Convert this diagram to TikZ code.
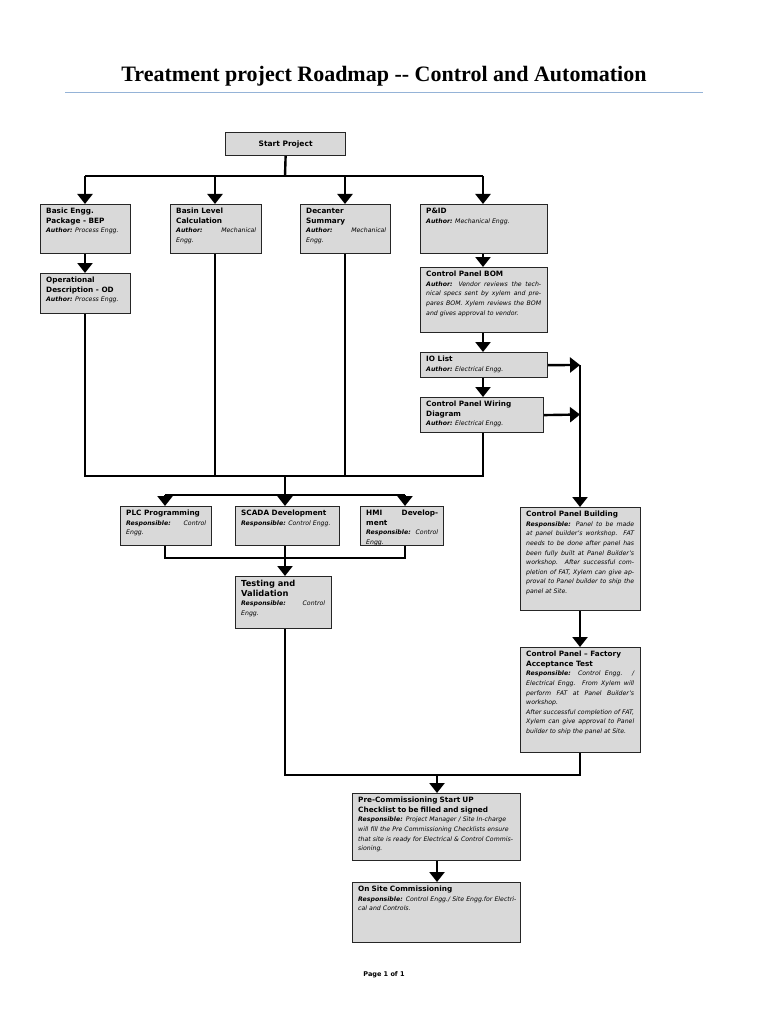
\documentclass[tikz,border=0pt]{standalone}
\usepackage{fontspec}
\setmainfont{DejaVu Sans}
\newfontfamily\titlefont{Liberation Serif}
\usetikzlibrary{arrows.meta}
\definecolor{boxgray}{HTML}{D9D9D9}
\definecolor{rulecol}{HTML}{95B3D7}
\begin{document}
\begin{tikzpicture}[x=1pt,y=-1pt,
  box/.style={draw=black!85,line width=1.2pt,fill=boxgray,anchor=north west,inner sep=0pt,
    drop shadow/.style={}},
  txt/.style={anchor=north west,inner sep=0pt,align=justify,font=\fontsize{6.2}{9.6}\selectfont},
  arr/.style={line width=2.4pt,-{Triangle[width=15pt,length=10pt]}},
  ln/.style={line width=2.4pt},
  thin/.style={line width=1.4pt}]
\useasboundingbox (0,0) rectangle (768,1024);
\node[font=\titlefont\bfseries\fontsize{22}{26}\selectfont] (title) at (384,76) {Treatment project Roadmap -- Control and Automation};
\draw[rulecol,line width=0.8pt] (65,92) coordinate (r1) -- (703,92) coordinate (r2);
% boxes
\newcommand\bx[5]{\node[box,minimum width=#4-#2,minimum height=#5-#3] (#1) at (#2,#3) {};}
\bx{start}{225}{132}{345}{155}
\bx{bep}{40}{204}{130}{253}
\bx{basin}{170}{204}{261}{253}
\bx{dec}{300}{204}{390}{253}
\bx{pid}{420}{204}{547}{253}
\bx{od}{40}{273}{130}{313}
\bx{bom}{420}{267}{547}{332}
\bx{io}{420}{352}{547}{377}
\bx{wir}{420}{397}{543}{432}
\bx{plc}{120}{506}{211}{545}
\bx{scada}{235}{506}{339}{545}
\bx{hmi}{360}{506}{443}{545}
\bx{test}{235}{576}{331}{628}
\bx{cpb}{520}{507}{640}{610}
\bx{fat}{520}{647}{640}{752}
\bx{pre}{352}{793}{520}{860}
\bx{site}{352}{882}{520}{942}
\node[font=\bfseries\fontsize{7.5}{9}\selectfont] (tstart) at (start.center) {Start Project};
\newcommand\tx[4]{\node[txt,text width=#2] (t#1) at ([shift={(6,4)}]#1.north west) {#3\\#4};}
\tx{bep}{80}{\textbf{\fontsize{7.3}{9.6}\selectfont Basic Engg.\\Package - BEP}}{\textit{\textbf{Author:} Process Engg.}}
\tx{basin}{80}{\textbf{\fontsize{7.3}{9.6}\selectfont Basin Level\\Calculation}}{\textit{\textbf{Author:} Mechanical Engg.}}
\tx{dec}{80}{\textbf{\fontsize{7.3}{9.6}\selectfont Decanter\\Summary}}{\textit{\textbf{Author:} Mechanical Engg.}}
\tx{pid}{115}{\textbf{\fontsize{7.3}{9.6}\selectfont P\&ID}}{\textit{\textbf{Author:} Mechanical Engg.}}
\tx{od}{80}{\textbf{\fontsize{7.3}{9.6}\selectfont Operational\\Description - OD}}{\textit{\textbf{Author:} Process Engg.}}
\tx{bom}{115}{\textbf{\fontsize{7.3}{9.6}\selectfont Control Panel BOM}}{\textit{\textbf{Author:} Vendor reviews the technical specs sent by xylem and prepares BOM. Xylem reviews the BOM and gives approval to vendor.}}
\tx{io}{115}{\textbf{\fontsize{7.3}{9.6}\selectfont IO List}}{\textit{\textbf{Author:} Electrical Engg.}}
\tx{wir}{111}{\textbf{\fontsize{7.3}{9.6}\selectfont Control Panel Wiring\\Diagram}}{\textit{\textbf{Author:} Electrical Engg.}}
\tx{plc}{80}{\textbf{\fontsize{7.3}{9.6}\selectfont PLC Programming}}{\textit{\textbf{Responsible:} Control Engg.}}
\tx{scada}{95}{\textbf{\fontsize{7.3}{9.6}\selectfont SCADA Development}}{\textit{\textbf{Responsible:} Control Engg.}}
\tx{hmi}{72}{\textbf{\fontsize{7.3}{9.6}\selectfont HMI Development}}{\textit{\textbf{Responsible:} Control Engg.}}
\tx{test}{84}{\textbf{\fontsize{8.3}{10.5}\selectfont Testing and\\Validation}}{\textit{\textbf{Responsible:} Control Engg.}}
\tx{cpb}{108}{\textbf{\fontsize{7.3}{9.6}\selectfont Control Panel Building}}{\textit{\textbf{Responsible:} Panel to be made at panel builder's workshop. FAT needs to be done after panel has been fully built at Panel Builder's workshop. After successful completion of FAT, Xylem can give approval to Panel builder to ship the panel at Site.}}
\tx{fat}{108}{\textbf{\fontsize{7.3}{9.6}\selectfont Control Panel -- Factory\\Acceptance Test}}{\textit{\textbf{Responsible:} Control Engg. / Electrical Engg. From Xylem will perform FAT at Panel Builder's workshop.\\After successful completion of FAT, Xylem can give approval to Panel builder to ship the panel at Site.}}
\node[txt,text width=160,align=left] (tpre) at ([shift={(6,4)}]pre.north west) {\textbf{\fontsize{7.3}{9.6}\selectfont Pre-Commissioning Start UP\\Checklist to be filled and signed}\\\textit{\textbf{Responsible:} Project Manager / Site In-charge will fill the Pre Commissioning Checklists ensure that site is ready for Electrical \& Control Commissioning.}};
\node[txt,text width=160,align=left] (tsite) at ([shift={(6,4)}]site.north west) {\textbf{\fontsize{7.3}{9.6}\selectfont On Site Commissioning}\\\textit{\textbf{Responsible:} Control Engg./ Site Engg.for Electrical and Controls.}};
% connectors
\coordinate (b1) at (285,176);
\draw[ln] (start.south) -- (b1);
\draw[ln] (85,176) -- (483,176);
\draw[arr] (85,176) -- (bep.north -| 85,0);
\draw[arr] (215,176) -- (basin.north -| 215,0);
\draw[arr] (345,176) -- (dec.north -| 345,0);
\draw[arr] (483,176) -- (pid.north -| 483,0);
\draw[arr] (bep.south -| 85,0) -- (od.north -| 85,0);
\draw[arr] (pid.south -| 483,0) -- (bom.north -| 483,0);
\draw[arr] (bom.south -| 483,0) -- (io.north -| 483,0);
\draw[arr] (io.south -| 483,0) -- (wir.north -| 483,0);
\coordinate (m1) at (85,476); \coordinate (m2) at (483,476);
\draw[thin] (od.south -| 85,0) -- (m1) -- (m2) -- (wir.south -| 483,0);
\draw[thin] (basin.south -| 215,0) -- (215,476);
\draw[thin] (dec.south -| 345,0) -- (345,476);
\draw[thin] (285,476) -- (285,495);
\draw[thin] (165,495) -- (405,495);
\draw[arr] (165,495) -- (plc.north -| 165,0);
\draw[arr] (285,495) -- (scada.north -| 285,0);
\draw[arr] (405,495) -- (hmi.north -| 405,0);
\draw[thin] (plc.south -| 165,0) -- (165,558) -- (405,558) -- (hmi.south -| 405,0);
\draw[arr] (scada.south -| 285,0) -- (test.north -| 285,0);
\draw[thin] (test.south -| 285,0) -- (285,775) -- (580,775) -- (fat.south -| 580,0);
\draw[arr] (437,775) -- (pre.north -| 437,0);
\draw[arr] (pre.south -| 437,0) -- (site.north -| 437,0);
\draw[arr] (io.east) -- (580,365);
\draw[arr] (wir.east) -- (580,414.5);
\draw[thin] (580,365) -- (580,497);
\draw[arr] (580,490) -- (cpb.north -| 580,0);
\draw[arr] (cpb.south -| 580,0) -- (fat.north -| 580,0);
\node[font=\bfseries\fontsize{6.5}{8}\selectfont] (page) at (384,975) {Page 1 of 1};
\end{tikzpicture}
\end{document}
